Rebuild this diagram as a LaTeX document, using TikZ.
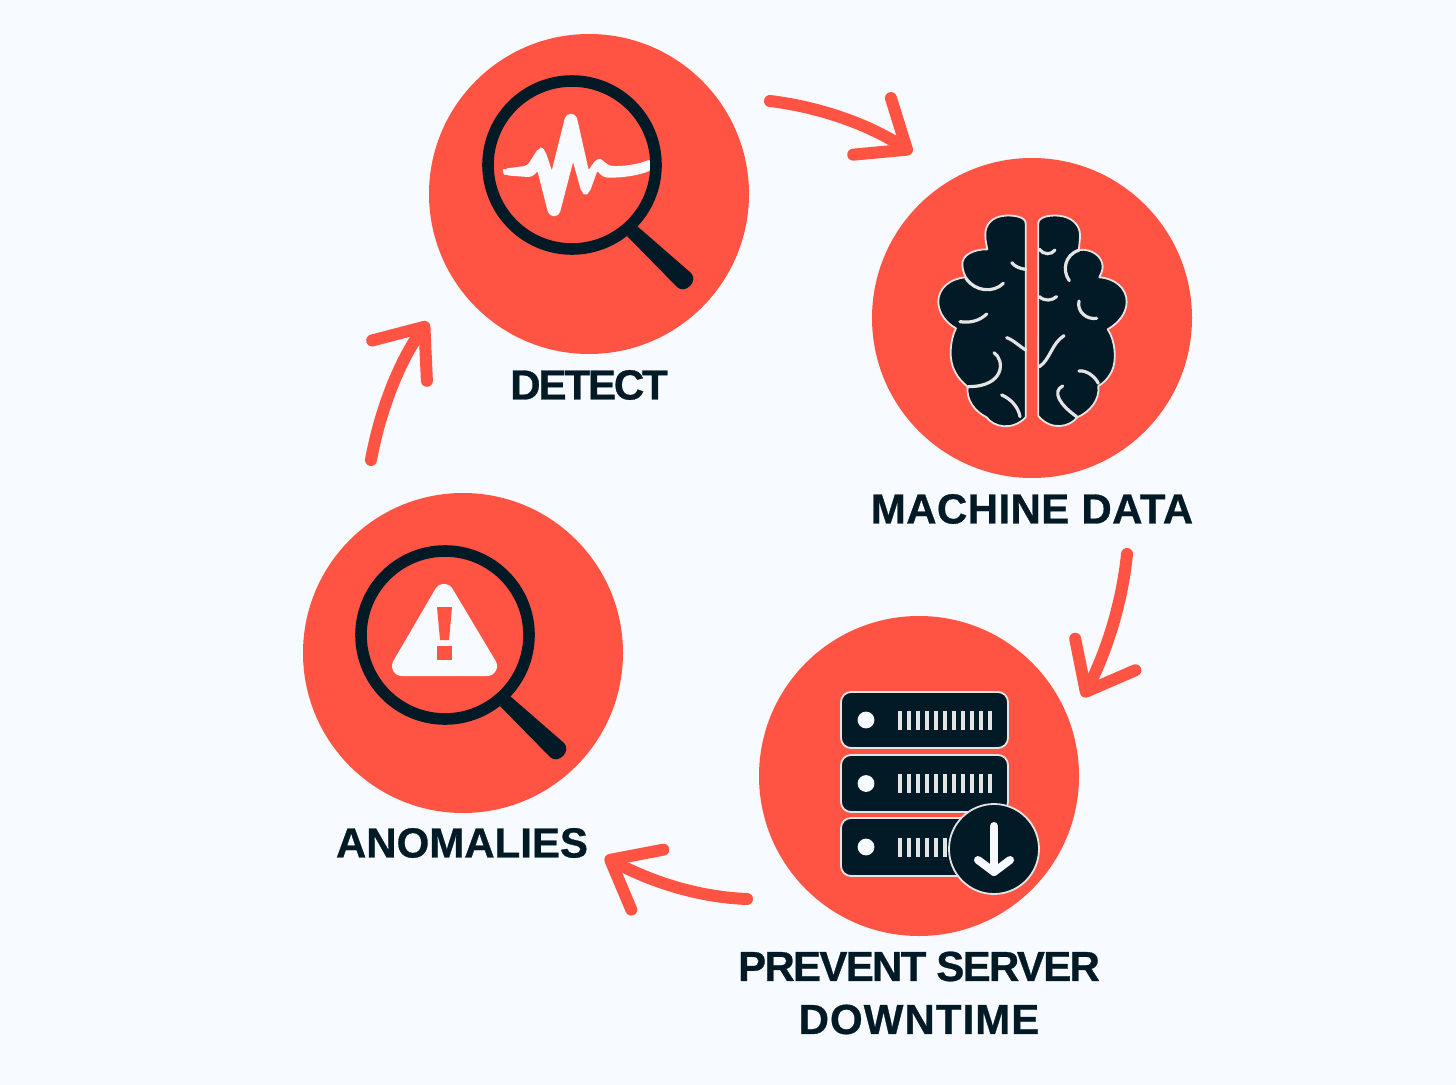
\documentclass[tikz,border=0pt]{standalone}
\usepackage{fontspec}
\setmainfont[BoldFeatures={FakeBold=0.7}]{Liberation Sans}
\usetikzlibrary{arrows.meta,positioning}
\definecolor{pagebg}{HTML}{F7FAFE}
\definecolor{coral}{HTML}{FF5444}
\definecolor{inkdark}{HTML}{021A26}
\definecolor{hairline}{HTML}{E4E4E4}
\newcommand{\spaced}[2]{{\addfontfeature{LetterSpace=#1}#2}}
\begin{document}
\begin{tikzpicture}[
    x=0.5pt, y=-0.5pt,
    bigdisc/.style={circle, fill=coral, minimum size=160pt, inner sep=0pt},
    lens/.style={circle, draw=inkdark, line width=5.8pt, minimum size=84pt, inner sep=0pt},
    caption/.style={font=\fontsize{21}{26.5}\selectfont\bfseries, text=inkdark, align=center, inner sep=0pt},
    cyclearrow/.style={draw=coral, line width=6pt, line cap=round,
        -{Straight Barb[length=21pt, width=34pt, line width=6pt, round]}},
    lobe/.style={fill=inkdark, draw=hairline, line width=0.9pt, line join=round},
    fold/.style={draw=hairline, line width=1.6pt, line cap=round},
    rack/.style={fill=inkdark, draw=hairline, line width=0.9pt, rounded corners=5pt},
    slot/.style={draw=hairline, line width=2.3pt}
]

% --- 1. Background ---
\fill[pagebg] (0,0) rectangle (1456,1085);
\useasboundingbox (0,0) rectangle (1456,1085);

% --- 2. Discs ---
\node[bigdisc] (detect) at (589,194) {};
\node[bigdisc] (machine) at (1032,318) {};
\node[bigdisc] (server) at (919,776) {};
\node[bigdisc] (anomalies) at (463,653) {};

% --- 3. Captions ---
\node[caption] (detect_label) at (589,385) {\spaced{-5}{DETECT}};
\node[caption] (machine_label) at (1032,509) {\spaced{1}{MACHINE DATA}};
\node[caption] (server_label) at (919,993) {\spaced{-4}{PREVENT SERVER}\\\spaced{2.5}{DOWNTIME}};
\node[caption] (anomalies_label) at (462,843) {ANOMALIES};

% --- 4. Arrows ---
\coordinate (a1_from) at (770,101);
\coordinate (a1_to) at (912,153);
\coordinate (a2_from) at (1127,554);
\coordinate (a2_to) at (1083,697);
\coordinate (a3_from) at (747,899);
\coordinate (a3_to) at (605,857);
\coordinate (a4_from) at (371,460);
\coordinate (a4_to) at (428,322);
\draw[cyclearrow] (a1_from) .. controls (820,107) and (870,125) .. (a1_to);
\draw[cyclearrow] (a2_from) .. controls (1122,605) and (1105,655) .. (a2_to);
\draw[cyclearrow] (a3_from) .. controls (695,897) and (648,880) .. (a3_to);
\draw[cyclearrow] (a4_from) .. controls (380,410) and (400,360) .. (a4_to);

% --- 5. Magnifier with pulse ---
\filldraw[fill=pagebg, draw=pagebg, line width=1.3pt, line join=round, rounded corners=2pt]
    (504,170) -- (528,167) -- (540,148) -- (544,151) -- (552,175)
    -- (567,115) -- (575,115) -- (588,173) -- (598,159) -- (603,162) -- (608,167)
    .. controls (625,168) and (640,165) .. (652,160) -- (652,168)
    .. controls (640,174) and (620,177) .. (603,176)
    -- (597,168) -- (588,193) -- (583,193) -- (573,157) -- (558,215) -- (550,215)
    -- (538,168) -- (532,176) -- (505,174) -- cycle;
\node[lens] (lens_a) at (572,165) {};
\fill[inkdark] (637,226) -- (691,273) .. controls (699,281) and (685,295) .. (677,287) -- (627,236) -- cycle;

% --- 6. Magnifier with warning sign ---
\filldraw[fill=pagebg, draw=pagebg, line width=10pt, line join=round] (444,594) -- (487,666) -- (402,666) -- cycle;
\fill[coral] (437,607) -- (452,607) -- (449,640) -- (440,640) -- cycle;
\fill[coral] (437,646) rectangle (452,660);
\node[lens] (lens_b) at (445,635) {};
\fill[inkdark] (510,696) -- (564,743) .. controls (572,751) and (558,765) .. (550,757) -- (500,706) -- cycle;

% --- 7. Brain ---
\begin{scope}[shift={(880,170)}, x=0.5pt/3, y=-0.5pt/3]
    \filldraw[lobe] (437,160) .. controls (437,140) and (400,135) .. (375,137)
        .. controls (335,140) and (315,165) .. (316,195)
        .. controls (316,215) and (320,225) .. (322,238)
        .. controls (280,238) and (245,255) .. (247,285)
        .. controls (248,305) and (255,315) .. (258,322)
        .. controls (210,325) and (175,355) .. (175,395)
        .. controls (175,430) and (200,460) .. (228,475)
        .. controls (210,510) and (205,570) .. (225,605)
        .. controls (235,625) and (250,640) .. (263,650)
        .. controls (258,690) and (285,725) .. (320,742)
        .. controls (340,770) and (395,785) .. (437,742) -- cycle;
    \filldraw[lobe] (475,160) .. controls (475,140) and (510,135) .. (535,137)
        .. controls (575,140) and (600,165) .. (600,195)
        .. controls (600,215) and (597,225) .. (597,240)
        .. controls (635,235) and (668,260) .. (668,290)
        .. controls (668,305) and (660,315) .. (658,322)
        .. controls (705,325) and (740,355) .. (740,395)
        .. controls (740,430) and (715,460) .. (683,478)
        .. controls (705,510) and (712,570) .. (695,605)
        .. controls (685,625) and (670,640) .. (655,648)
        .. controls (660,690) and (630,725) .. (592,742)
        .. controls (570,770) and (515,785) .. (475,738) -- cycle;
    % left folds
    \draw[fold] (258,325) .. controls (285,365) and (340,370) .. (370,340);
    \draw[fold] (395,278) .. controls (405,290) and (420,296) .. (437,298);
    \draw[fold] (240,455) .. controls (270,460) and (300,452) .. (320,432);
    \draw[fold] (380,503) .. controls (400,510) and (420,530) .. (437,540);
    \draw[fold] (342,548) .. controls (375,570) and (375,650) .. (265,650);
    \draw[fold] (365,675) .. controls (390,685) and (415,710) .. (420,740);
    % right folds
    \draw[fold] (478,238) .. controls (490,255) and (515,255) .. (525,240);
    \draw[fold] (568,332) .. controls (545,300) and (555,255) .. (597,240);
    \draw[fold] (478,380) .. controls (495,395) and (515,392) .. (530,380);
    \draw[fold] (597,393) .. controls (590,425) and (620,450) .. (650,445);
    \draw[fold] (552,497) .. controls (515,520) and (510,570) .. (478,590);
    \draw[fold] (597,603) .. controls (620,600) and (645,620) .. (655,640);
    \draw[fold] (548,648) .. controls (515,665) and (540,705) .. (590,740);
\end{scope}

% --- 8. Server racks ---
\foreach \top/\bottom/\slots in {692/748/10, 755/812/10, 818/876/5} {
    \draw[rack] (841,\top) rectangle (1008,\bottom);
    \fill[pagebg] (866,{(\top+\bottom)/2}) circle (4.2pt);
    \foreach \i in {0,...,\slots} {
        \draw[slot] ({900+9*\i},{(\top+\bottom)/2-9.5}) -- ({900+9*\i},{(\top+\bottom)/2+9.5});
    }
}
\node[circle, fill=inkdark, draw=hairline, line width=0.9pt, minimum size=45pt, inner sep=0pt] (download) at (994,849) {};
\coordinate (down_from) at (994,826);
\coordinate (down_to) at (994,872);
\draw[pagebg, line width=4pt, line cap=round, line join=round] (down_from) -- (down_to);
\draw[pagebg, line width=4pt, line cap=round, line join=round] (978,860) -- (down_to) -- (1010,860);

\end{tikzpicture}
\end{document}
